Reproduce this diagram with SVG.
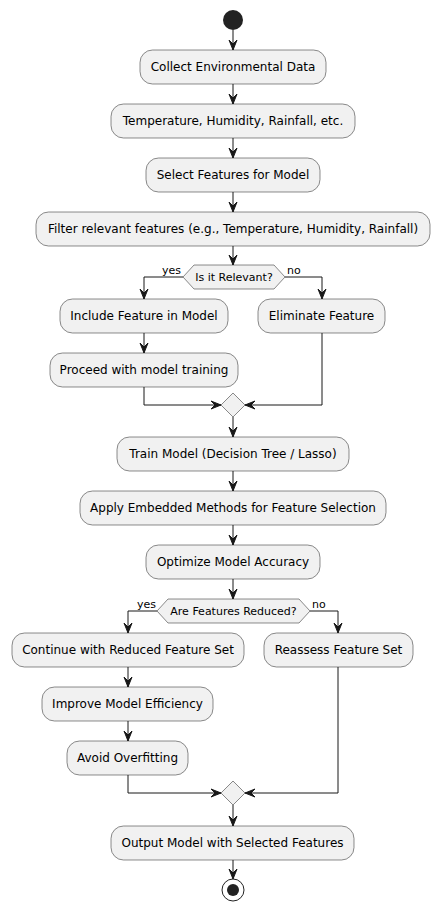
<svg xmlns="http://www.w3.org/2000/svg" width="440" height="911" viewBox="0 0 440 911">
<style>
.box{fill:#F1F1F1;stroke:#181818;stroke-width:0.5}
.t{font-family:"DejaVu Sans",sans-serif;font-size:12px;fill:#000;text-anchor:middle}
.s{font-family:"DejaVu Sans",sans-serif;font-size:11px;fill:#000}
.ln{fill:none;stroke:#181818;stroke-width:1}
.ah{fill:#181818;stroke:#181818;stroke-width:1}
</style>
<defs>
<polygon id="ad" points="-4,-10 0,0 4,-10 0,-6"/>
<polygon id="ar" points="-10,-4 0,0 -10,4 -6,0"/>
<polygon id="al" points="10,-4 0,0 10,4 6,0"/>
</defs>
<rect width="440" height="911" fill="#FFFFFF"/>
<g id="connectors">
<path class="ln" d="M233,30 V50 M233,84 V104 M233,138 V158 M233,192 V212 M233,246 V265"/>
<path class="ln" d="M183,277 H144 V299 M285,277 H322 V299 M144,333 V353"/>
<path class="ln" d="M144,387 V405 H221 M322,333 V405 H245 M233,417 V437"/>
<path class="ln" d="M233,471 V491 M233,525 V545 M233,579 V599"/>
<path class="ln" d="M157,611 H128 V633 M310,611 H338 V633 M128,667 V687 M128,721 V741"/>
<path class="ln" d="M128,775 V793 H221 M338,667 V793 H245 M233,805 V826 M233,860 V879"/>
<g class="ah">
<use href="#ad" x="233" y="50"/><use href="#ad" x="233" y="104"/><use href="#ad" x="233" y="158"/><use href="#ad" x="233" y="212"/><use href="#ad" x="233" y="265"/>
<use href="#ad" x="144" y="299"/><use href="#ad" x="322" y="299"/><use href="#ad" x="144" y="353"/>
<use href="#ar" x="221" y="405"/><use href="#al" x="245" y="405"/><use href="#ad" x="233" y="437"/>
<use href="#ad" x="233" y="491"/><use href="#ad" x="233" y="545"/><use href="#ad" x="233" y="599"/>
<use href="#ad" x="128" y="633"/><use href="#ad" x="338" y="633"/><use href="#ad" x="128" y="687"/><use href="#ad" x="128" y="741"/>
<use href="#ar" x="221" y="793"/><use href="#al" x="245" y="793"/><use href="#ad" x="233" y="826"/><use href="#ad" x="233" y="879"/>
</g>
<text class="s" x="181" y="274" text-anchor="end">yes</text>
<text class="s" x="287" y="274">no</text>
<text class="s" x="156" y="608" text-anchor="end">yes</text>
<text class="s" x="312" y="608">no</text>
</g>
<g id="start"><circle cx="233" cy="20" r="10" fill="#222222"/></g>
<g id="n1"><rect class="box" x="140" y="50" width="186" height="34" rx="12.5"/><text class="t" x="233" y="71">Collect Environmental Data</text></g>
<g id="n2"><rect class="box" x="111" y="104" width="244" height="34" rx="12.5"/><text class="t" x="233" y="125">Temperature, Humidity, Rainfall, etc.</text></g>
<g id="n3"><rect class="box" x="146" y="158" width="174" height="34" rx="12.5"/><text class="t" x="233" y="179">Select Features for Model</text></g>
<g id="n4"><rect class="box" x="36" y="212" width="394" height="34" rx="12.5"/><text class="t" x="233" y="233">Filter relevant features (e.g., Temperature, Humidity, Rainfall)</text></g>
<g id="d1"><polygon class="box" points="183,277 194,265 274,265 285,277 274,289 194,289"/><text class="s" x="234" y="281" text-anchor="middle">Is it Relevant?</text></g>
<g id="n5"><rect class="box" x="60" y="299" width="168" height="34" rx="12.5"/><text class="t" x="144" y="320">Include Feature in Model</text></g>
<g id="n6"><rect class="box" x="258" y="299" width="127" height="34" rx="12.5"/><text class="t" x="321.5" y="320">Eliminate Feature</text></g>
<g id="n7"><rect class="box" x="50" y="353" width="188" height="34" rx="12.5"/><text class="t" x="144" y="374">Proceed with model training</text></g>
<g id="m1"><polygon class="box" points="233,393 245,405 233,417 221,405"/></g>
<g id="n8"><rect class="box" x="117" y="437" width="232" height="34" rx="12.5"/><text class="t" x="233" y="458">Train Model (Decision Tree / Lasso)</text></g>
<g id="n9"><rect class="box" x="80" y="491" width="306" height="34" rx="12.5"/><text class="t" x="233" y="512">Apply Embedded Methods for Feature Selection</text></g>
<g id="n10"><rect class="box" x="146" y="545" width="174" height="34" rx="12.5"/><text class="t" x="233" y="566">Optimize Model Accuracy</text></g>
<g id="d2"><polygon class="box" points="157,611 168,599 299,599 310,611 299,623 168,623"/><text class="s" x="233.5" y="615" text-anchor="middle">Are Features Reduced?</text></g>
<g id="n11"><rect class="box" x="12" y="633" width="232" height="34" rx="12.5"/><text class="t" x="128" y="654">Continue with Reduced Feature Set</text></g>
<g id="n12"><rect class="box" x="264" y="633" width="149" height="34" rx="12.5"/><text class="t" x="338.5" y="654">Reassess Feature Set</text></g>
<g id="n13"><rect class="box" x="42" y="687" width="171" height="34" rx="12.5"/><text class="t" x="127.5" y="708">Improve Model Efficiency</text></g>
<g id="n14"><rect class="box" x="67" y="741" width="121" height="34" rx="12.5"/><text class="t" x="127.5" y="762">Avoid Overfitting</text></g>
<g id="m2"><polygon class="box" points="233,781 245,793 233,805 221,793"/></g>
<g id="n15"><rect class="box" x="111" y="826" width="243" height="34" rx="12.5"/><text class="t" x="232.5" y="847">Output Model with Selected Features</text></g>
<g id="end"><circle cx="233" cy="890" r="11" fill="none" stroke="#222222" stroke-width="1"/><circle cx="233" cy="890" r="6" fill="#222222"/></g>
</svg>
